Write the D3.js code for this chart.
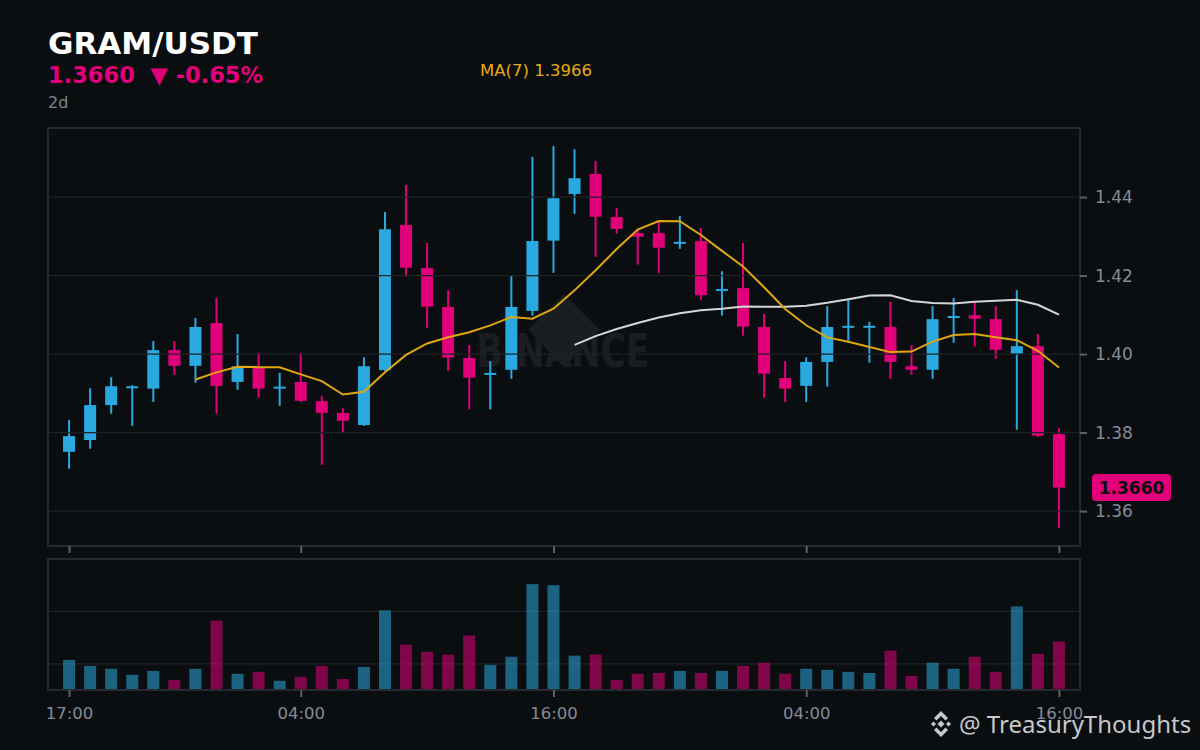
<!DOCTYPE html>
<html>
<head>
<meta charset="utf-8">
<script src="https://cdn.jsdelivr.net/npm/d3@7"></script>
<style>
  html, body { margin: 0; padding: 0; background: #0b0e11; }
  svg { display: block; }
</style>
</head>
<body>
<div id="chart"></div>
<script>
// hourly candles, 17:00 day 1 -> 16:00 day 3
var opens = [1.3751,1.3781,1.3870,1.3915,1.3912,1.4010,1.3970,1.4079,1.3929,1.3967,1.3913,1.3929,1.3880,1.3850,1.3819,1.3959,
  1.4329,1.4219,1.4120,1.3990,1.3949,1.3960,1.4110,1.4289,1.4408,1.4459,1.4349,1.4308,1.4308,1.4283,1.4288,1.4163,
  1.4168,1.4069,1.3939,1.3919,1.3980,1.4069,1.4069,1.4069,1.3969,1.3960,1.4093,1.4099,1.4089,1.4001,1.4020,1.3796];
var highs = [1.3832,1.3913,1.3941,1.3921,1.4033,1.4033,1.4092,1.4143,1.4051,1.4003,1.3952,1.4003,1.3893,1.3862,1.3992,1.4362,
  1.4431,1.4283,1.4163,1.4023,1.3982,1.4201,1.4502,1.4530,1.4522,1.4492,1.4372,1.4319,1.4337,1.4352,1.4321,1.4211,
  1.4283,1.4102,1.3982,1.3992,1.4122,1.4138,1.4082,1.4133,1.4023,1.4122,1.4143,1.4133,1.4122,1.4163,1.4051,1.3811];
var lows = [1.3708,1.3759,1.3848,1.3817,1.3878,1.3947,1.3927,1.3848,1.3909,1.3889,1.3868,1.3878,1.3718,1.3798,1.3817,1.3957,
  1.4197,1.4067,1.3957,1.3859,1.3859,1.3937,1.4098,1.4207,1.4357,1.4248,1.4307,1.4228,1.4207,1.4268,1.4138,1.4098,
  1.4047,1.3889,1.3878,1.3878,1.3917,1.4034,1.3978,1.3937,1.3947,1.3937,1.4029,1.4019,1.3988,1.3807,1.3789,1.3557];
var closes = [1.3791,1.3870,1.3918,1.3918,1.4010,1.3970,1.4069,1.3919,1.3969,1.3912,1.3917,1.3881,1.3850,1.3830,1.3969,1.4318,
  1.4220,1.4121,1.3991,1.3940,1.3952,1.4120,1.4288,1.4397,1.4448,1.4350,1.4319,1.4299,1.4271,1.4286,1.4150,1.4166,
  1.4070,1.3950,1.3912,1.3980,1.4069,1.4072,1.4072,1.3980,1.3960,1.4089,1.4097,1.4090,1.4011,1.4020,1.3792,1.3660];
var volumes = [215,192,181,158,173,138,181,365,162,169,135,150,192,142,188,404,
  273,246,235,308,196,227,504,500,231,235,138,162,165,173,165,173,
  192,204,162,181,177,169,165,250,154,204,181,227,169,419,238,285];

var priceTicks = [1.36, 1.38, 1.40, 1.42, 1.44];
var volTicks = [200, 400];
var timeTickIdx = [0, 11, 23, 35, 47];
var timeTickLabels = ["17:00", "04:00", "16:00", "04:00", "16:00"];

var upColor = "#29a9df";
var downColor = "#e2007a";
var bg = "#0b0e11";
var gridColor = "#1e2227";
var frameColor = "#262a30";
var axisText = "#848b96";
var font = "DejaVu Sans, sans-serif";

var svgWidth = 1200, svgHeight = 750;
var plot = { left: 48, right: 1080, top: 128, bottom: 546 };
var vol = { top: 559, bottom: 690 };

var svg = d3.select("#chart").append("svg")
  .attr("width", svgWidth)
  .attr("height", svgHeight)
  .style("background", bg);

var data = opens.map(function(o, i) {
  return { i: i, o: o, h: highs[i], l: lows[i], c: closes[i], v: volumes[i] };
});

function movingAvg(n) {
  var out = [];
  for (var i = n - 1; i < closes.length; i++) {
    out.push({ i: i, v: d3.mean(closes.slice(i - n + 1, i + 1)) });
  }
  return out;
}
var ma7 = movingAvg(7);
var ma25 = movingAvg(25);

var x = d3.scaleLinear().domain([-1, 48]).range([plot.left, plot.right]);
var y = d3.scaleLinear().domain([1.3511, 1.4576]).range([plot.bottom, plot.top]);
var yV = d3.scaleLinear().domain([100, 600]).range([vol.bottom, vol.top]);
var bodyW = 12;

// titles
svg.append("text").attr("x", 48).attr("y", 54)
  .attr("font-family", font).attr("font-weight", "bold").attr("font-size", "31px")
  .attr("fill", "#ffffff").text("GRAM/USDT");
svg.append("text").attr("x", 48).attr("y", 83)
  .attr("font-family", font).attr("font-weight", "bold").attr("font-size", "22.5px")
  .attr("fill", downColor).attr("xml:space", "preserve").text("1.3660  \u25BC -0.65%");
svg.append("text").attr("x", 48).attr("y", 108)
  .attr("font-family", font).attr("font-size", "16px")
  .attr("fill", "#7d8590").text("2d");
svg.append("text").attr("x", 480).attr("y", 76)
  .attr("font-family", font).attr("font-size", "16.5px")
  .attr("fill", "#e6ab12").text("MA(7) " + ma7[ma7.length - 1].v.toFixed(4));

// watermark
var wm = svg.append("g").attr("class", "watermark");
wm.append("path")
  .attr("d", "M564,294 L600,330 L564,367 L528,330 Z")
  .attr("fill", "#1a1d21");
wm.append("text").attr("x", 563).attr("y", 367).attr("text-anchor", "middle")
  .attr("font-family", font).attr("font-weight", "bold").attr("font-size", "46px")
  .attr("textLength", 173).attr("lengthAdjust", "spacingAndGlyphs")
  .attr("fill", "#1a1d21").text("BINANCE");

// candles
var candles = svg.append("g").selectAll("g").data(data).enter().append("g");
candles.append("line")
  .attr("x1", function(d) { return x(d.i); })
  .attr("x2", function(d) { return x(d.i); })
  .attr("y1", function(d) { return y(d.h); })
  .attr("y2", function(d) { return y(d.l); })
  .attr("stroke", function(d) { return d.c >= d.o ? upColor : downColor; })
  .attr("stroke-width", 2);
candles.append("rect")
  .attr("x", function(d) { return x(d.i) - bodyW / 2; })
  .attr("y", function(d) { return y(Math.max(d.o, d.c)); })
  .attr("width", bodyW)
  .attr("height", function(d) { return Math.max(2, Math.abs(y(d.o) - y(d.c))); })
  .attr("fill", function(d) { return d.c >= d.o ? upColor : downColor; });

// price grid (drawn over candles)
svg.append("g").selectAll("line").data(priceTicks).enter().append("line")
  .attr("x1", plot.left).attr("x2", plot.right)
  .attr("y1", function(d) { return y(d); }).attr("y2", function(d) { return y(d); })
  .attr("stroke", gridColor).attr("stroke-width", 1.3);

// moving averages
var line = d3.line().x(function(d) { return x(d.i); }).y(function(d) { return y(d.v); });
svg.append("path").datum(ma25).attr("d", line)
  .attr("fill", "none").attr("stroke", "#d6d6d6").attr("stroke-width", 2);
svg.append("path").datum(ma7).attr("d", line)
  .attr("fill", "none").attr("stroke", "#e0a712").attr("stroke-width", 2);

// frames
svg.append("rect").attr("x", plot.left).attr("y", plot.top)
  .attr("width", plot.right - plot.left).attr("height", plot.bottom - plot.top)
  .attr("fill", "none").attr("stroke", frameColor).attr("stroke-width", 2);

// right price axis
var yAxis = svg.append("g")
  .attr("transform", "translate(" + plot.right + ",0)")
  .call(d3.axisRight(y).tickValues(priceTicks).tickSize(7).tickPadding(8).tickFormat(d3.format(".2f")));
yAxis.select(".domain").remove();
yAxis.selectAll("line").attr("stroke", "#5a616b").attr("stroke-width", 2);
yAxis.selectAll("text").attr("fill", axisText).attr("font-family", font).attr("font-size", "17px");

// last price tag
var last = data[data.length - 1];
svg.append("rect").attr("x", 1092).attr("y", y(last.c) - 13.5)
  .attr("width", 79).attr("height", 27).attr("rx", 4)
  .attr("fill", downColor);
svg.append("text").attr("x", 1131.5).attr("y", y(last.c) + 6)
  .attr("text-anchor", "middle").attr("font-family", font).attr("font-weight", "bold")
  .attr("font-size", "17px").attr("fill", "#0b0e11").text(last.c.toFixed(4));

// time ticks under price panel
var xTop = svg.append("g")
  .attr("transform", "translate(0," + plot.bottom + ")")
  .call(d3.axisBottom(x).tickValues(timeTickIdx).tickSize(7).tickFormat(""));
xTop.select(".domain").remove();
xTop.selectAll("line").attr("stroke", "#5a616b").attr("stroke-width", 2);

// volume panel
svg.append("g").selectAll("line").data(volTicks).enter().append("line")
  .attr("x1", plot.left).attr("x2", plot.right)
  .attr("y1", function(d) { return yV(d); }).attr("y2", function(d) { return yV(d); })
  .attr("stroke", gridColor).attr("stroke-width", 1.3);
svg.append("g").selectAll("rect").data(data).enter().append("rect")
  .attr("x", function(d) { return x(d.i) - bodyW / 2; })
  .attr("y", function(d) { return yV(d.v); })
  .attr("width", bodyW)
  .attr("height", function(d) { return vol.bottom - yV(d.v); })
  .attr("fill", function(d) { return d.c >= d.o ? upColor : downColor; })
  .attr("opacity", 0.55);
svg.append("rect").attr("x", plot.left).attr("y", vol.top)
  .attr("width", plot.right - plot.left).attr("height", vol.bottom - vol.top)
  .attr("fill", "none").attr("stroke", frameColor).attr("stroke-width", 2);

var xBottom = svg.append("g")
  .attr("transform", "translate(0," + vol.bottom + ")")
  .call(d3.axisBottom(x).tickValues(timeTickIdx).tickSize(7).tickPadding(10)
    .tickFormat(function(d, k) { return timeTickLabels[k]; }));
xBottom.select(".domain").remove();
xBottom.selectAll("line").attr("stroke", "#5a616b").attr("stroke-width", 2);
xBottom.selectAll("text").attr("fill", axisText).attr("font-family", font).attr("font-size", "16.5px");

// bottom-right credit
var credit = svg.append("g").attr("transform", "translate(941,724)").attr("fill", "#c8c8c8");
credit.append("path").attr("d", "M0,-3.5 L3.5,0 L0,3.5 L-3.5,0 Z");
credit.append("path").attr("d", "M-10,0 L-7.5,-2.5 L-5,0 L-7.5,2.5 Z");
credit.append("path").attr("d", "M10,0 L7.5,-2.5 L5,0 L7.5,2.5 Z");
credit.append("path").attr("d", "M0,-13 L7,-6 L4.5,-3.5 L0,-8 L-4.5,-3.5 L-7,-6 Z");
credit.append("path").attr("d", "M0,13 L7,6 L4.5,3.5 L0,8 L-4.5,3.5 L-7,6 Z");
svg.append("text").attr("x", 959).attr("y", 733)
  .attr("font-family", "Noto Sans, sans-serif").attr("font-size", "24px")
  .attr("fill", "#c8c8c8").attr("xml:space", "preserve").text("@ TreasuryThoughts");
</script>
</body>
</html>
